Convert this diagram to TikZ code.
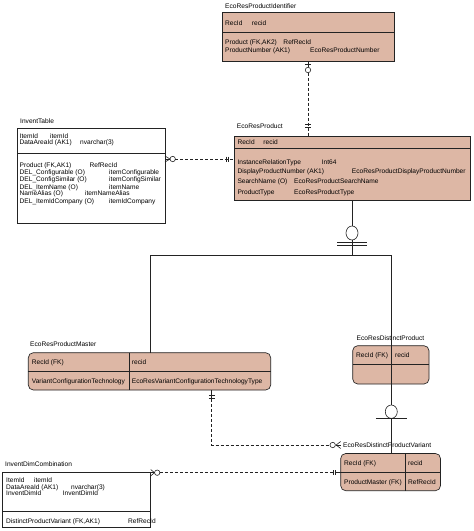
\documentclass[tikz,border=0pt]{standalone}
\usepackage{fontspec}
\setmainfont{Liberation Sans}
\usetikzlibrary{calc}
\definecolor{entfill}{RGB}{221,183,165}
\definecolor{lncol}{RGB}{35,35,35}
\newcommand\attrline[6]{\node[txt] (#1) at (#2,#3+2.4) {\makebox[#4pt][l]{#5}#6};}
\newcommand\titletext[4]{\node[txt] (#1) at (#2,#3+2.4) {#4};}
\tikzset{
  txt/.style={font=\fontsize{6.6}{7}\selectfont, inner sep=0pt, anchor=base west, text=black},
  ent/.style={draw=lncol, line width=0.65pt, anchor=north west, inner sep=0pt, outer sep=0pt},
  brownbox/.style={fill=entfill},
  whitebox/.style={fill=white},
  roundbox/.style={rounded corners=5pt},
  rel/.style={draw=lncol, line width=0.6pt},
  reldash/.style={draw=lncol, line width=0.6pt, dash pattern=on 3pt off 2pt},
}
\begin{document}
\begin{tikzpicture}[x=1pt,y=-1pt]
\useasboundingbox[fill=white] (0,0) rectangle (474,531);

% ---------- EcoResProductIdentifier
\titletext{tIdent}{225}{6}{EcoResProductIdentifier}
\node[ent,brownbox,minimum width=172pt,minimum height=48.3pt] (ident) at (222,12.7) {};
\draw[rel] (ident.west |- 0,32.3) -- (ident.east |- 0,32.3);
\attrline{i1}{225}{23.3}{26.7}{RecId}{recid}
\attrline{i2}{225}{41.7}{58.3}{Product (FK,AK2)}{RefRecId}
\attrline{i3}{225}{50}{85}{ProductNumber (AK1)}{EcoResProductNumber}

% ---------- EcoResProduct
\titletext{tProd}{236.7}{125.7}{EcoResProduct}
\node[ent,brownbox,minimum width=236pt,minimum height=64pt] (prod) at (234,136) {};
\draw[rel] (prod.west |- 0,148) -- (prod.east |- 0,148);
\attrline{p1}{237.3}{142}{26}{RecId}{recid}
\attrline{p2}{237.3}{161.7}{84.4}{InstanceRelationType}{Int64}
\attrline{p3}{237.3}{171.5}{114.4}{DisplayProductNumber (AK1)}{EcoResProductDisplayProductNumber}
\attrline{p4}{237.3}{181}{56.7}{SearchName (O)}{EcoResProductSearchName}
\attrline{p5}{237.3}{191.7}{56.7}{ProductType}{EcoResProductType}

% ---------- InventTable
\titletext{tInv}{20}{121}{InventTable}
\node[ent,whitebox,minimum width=148pt,minimum height=95pt] (invent) at (17,128.3) {};
\draw[rel] (invent.west |- 0,153.3) -- (invent.east |- 0,153.3);
\attrline{v1}{19.5}{135.7}{30.5}{ItemId}{itemId}
\attrline{v2}{19.5}{142.3}{60.5}{DataAreaId (AK1)}{nvarchar(3)}
\attrline{v3}{19.5}{165}{70}{Product (FK,AK1)}{RefRecId}
\attrline{v4}{19.5}{172.3}{89.5}{DEL\_Configurable (O)}{itemConfigurable}
\attrline{v5}{19.5}{179.3}{89.5}{DEL\_ConfigSimilar (O)}{itemConfigSimilar}
\attrline{v6}{19.5}{186.7}{89.5}{DEL\_ItemName (O)}{itemName}
\attrline{v7}{19.5}{193.3}{65.5}{NameAlias (O)}{itemNameAlias}
\attrline{v8}{19.5}{200.7}{89.5}{DEL\_ItemIdCompany (O)}{itemIdCompany}

% ---------- EcoResProductMaster
\titletext{tMast}{30}{344}{EcoResProductMaster}
\node[ent,brownbox,roundbox,minimum width=242.4pt,minimum height=37.3pt] (mast) at (28.3,352.7) {};
\draw[rel] (mast.west |- 0,371) -- (mast.east |- 0,371);
\draw[rel] (129.3,352.7) -- (129.3,390);
\attrline{m1}{31.7}{361.7}{100}{RecId (FK)}{recid}
\attrline{m2}{31.7}{381.2}{100}{VariantConfigurationTechnology}{EcoResVariantConfigurationTechnologyType}

% ---------- EcoResDistinctProduct
\titletext{tDist}{356.5}{337.7}{EcoResDistinctProduct}
\node[ent,brownbox,roundbox,minimum width=76.3pt,minimum height=38.3pt] (dist) at (352.7,345.7) {};
\draw[rel] (dist.west |- 0,364) -- (dist.east |- 0,364);
\draw[rel] (391.3,345.7) -- (391.3,384);
\attrline{d1}{356}{355}{39}{RecId (FK)}{recid}

% ---------- EcoResDistinctProductVariant
\titletext{tVar}{343}{445}{EcoResDistinctProductVariant}
\node[ent,brownbox,roundbox,minimum width=99.8pt,minimum height=37.2pt] (var) at (340.7,453.5) {};
\draw[rel] (var.west |- 0,472) -- (var.east |- 0,472);
\draw[rel] (405,453.5) -- (405,490.7);
\attrline{w1}{344}{462.7}{64}{RecId (FK)}{recid}
\attrline{w2}{344}{481.7}{64}{ProductMaster (FK)}{RefRecId}

% ---------- InventDimCombination
\titletext{tDim}{5}{464}{InventDimCombination}
\node[ent,whitebox,minimum width=148pt,minimum height=54.3pt] (dim) at (2.7,472.7) {};
\draw[rel] (dim.west |- 0,511.7) -- (dim.east |- 0,511.7);
\attrline{c1}{6}{480}{28}{ItemId}{itemId}
\attrline{c2}{6}{486.7}{65}{DataAreaId (AK1)}{nvarchar(3)}
\attrline{c3}{6}{493.3}{56.7}{InventDimId}{InventDimId}
\attrline{c4}{6}{520.7}{122}{DistinctProductVariant (FK,AK1)}{RefRecId}

% ================= connectors
% Identifier -> Product (one, optional)
\coordinate (ia) at (ident.south);
\coordinate (ib) at (ident.south |- prod.north);
\draw[rel] (ia) -- ($(ia)+(0,6.3)$);
\draw[rel] ($(ia)+(-3.2,3)$) -- ($(ia)+(3.2,3)$);
\draw[rel] ($(ia)+(0,9)$) circle[radius=2.7pt];
\draw[reldash] ($(ia)+(0,11.7)$) -- (ib);
\draw[rel] ($(ib)+(-3,-11.5)$) -- ($(ib)+(3,-11.5)$);
\draw[rel] ($(ib)+(-3,-9)$) -- ($(ib)+(3,-9)$);

% InventTable -> Product
\coordinate (iv) at (invent.east |- 0,159);
\coordinate (pv) at (prod.west |- iv);
\draw[rel] ($(iv)+(0,-3)$) -- ($(iv)+(5,0)$) -- ($(iv)+(0,3)$);
\draw[rel] (iv) -- ($(iv)+(5,0)$);
\draw[rel] ($(iv)+(7.7,0)$) circle[radius=2.7pt];
\draw[reldash] ($(iv)+(10.4,0)$) -- (pv);
\draw[rel] ($(pv)+(-8,-2.5)$) -- ($(pv)+(-8,2.5)$);
\draw[rel] ($(pv)+(-5.5,-2.5)$) -- ($(pv)+(-5.5,2.5)$);

% Product -> subtypes (category)
\coordinate (ps) at (prod.south);
\coordinate (jn) at ($(ps)+(0,55)$);
\coordinate (jl) at (mast.north -| 150.7,0);
\coordinate (jr) at (dist.north -| 391.3,0);
\draw[rel] (ps) -- ($(ps)+(0,26)$);
\draw[rel] ($(ps)+(0,33)$) ellipse[x radius=6pt, y radius=7pt];
\draw[rel] ($(ps)+(0,40)$) -- (jn);
\draw[rel] ($(ps)+(-15,42)$) -- ($(ps)+(15,42)$);
\draw[rel] ($(ps)+(-15,45)$) -- ($(ps)+(15,45)$);
\draw[rel] (jl |- jn) -- (jr |- jn);
\draw[rel] (jl |- jn) -- (jl);
\draw[rel] (jr |- jn) -- (jr);

% DistinctProduct -> Variant (category)
\coordinate (ds) at (dist.south -| 391.3,0);
\coordinate (vn) at (var.north -| 391.3,0);
\draw[rel] (ds) -- ($(ds)+(0,21)$);
\draw[rel] ($(ds)+(0,27.7)$) ellipse[x radius=6pt, y radius=6.7pt];
\draw[rel] ($(ds)+(-15.5,34.3)$) -- ($(ds)+(15.2,34.3)$);
\draw[rel] ($(ds)+(0,34.3)$) -- (vn);

% Master -> Variant
\coordinate (ms) at (mast.south -| 211.7,0);
\coordinate (mc) at (211.7,445);
\coordinate (vt) at (340.7,445);
\draw[rel] (ms) -- ($(ms)+(0,9)$);
\draw[rel] ($(ms)+(-2.8,5.5)$) -- ($(ms)+(2.8,5.5)$);
\draw[rel] ($(ms)+(-2.8,8)$) -- ($(ms)+(2.8,8)$);
\draw[reldash] ($(ms)+(0,9)$) -- (mc) -- ($(vt)+(-10.7,0)$);
\draw[rel] ($(vt)+(-8,0)$) circle[radius=2.7pt];
\draw[rel] ($(vt)+(0,-3.5)$) -- ($(vt)+(-4.6,0)$) -- ($(vt)+(0,3.5)$);
\draw[rel] ($(vt)+(-4.6,0)$) -- (vt);

% InventDimCombination -> Variant
\coordinate (dv) at (dim.north east);
\coordinate (vw) at (var.west |- dv);
\draw[rel] ($(dv)+(0,-3.2)$) -- ($(dv)+(3.8,0)$) -- ($(dv)+(0,3.2)$);
\draw[rel] (dv) -- ($(dv)+(3.8,0)$);
\draw[rel] ($(dv)+(6.5,0)$) circle[radius=2.7pt];
\draw[reldash] ($(dv)+(9.2,0)$) -- ($(vw)+(-5,0)$);
\draw[rel] ($(vw)+(-5,0)$) -- (vw);
\draw[rel] ($(vw)+(-7.7,-2.7)$) -- ($(vw)+(-7.7,2.7)$);
\draw[rel] ($(vw)+(-5.2,-2.7)$) -- ($(vw)+(-5.2,2.7)$);
\end{tikzpicture}
\end{document}
